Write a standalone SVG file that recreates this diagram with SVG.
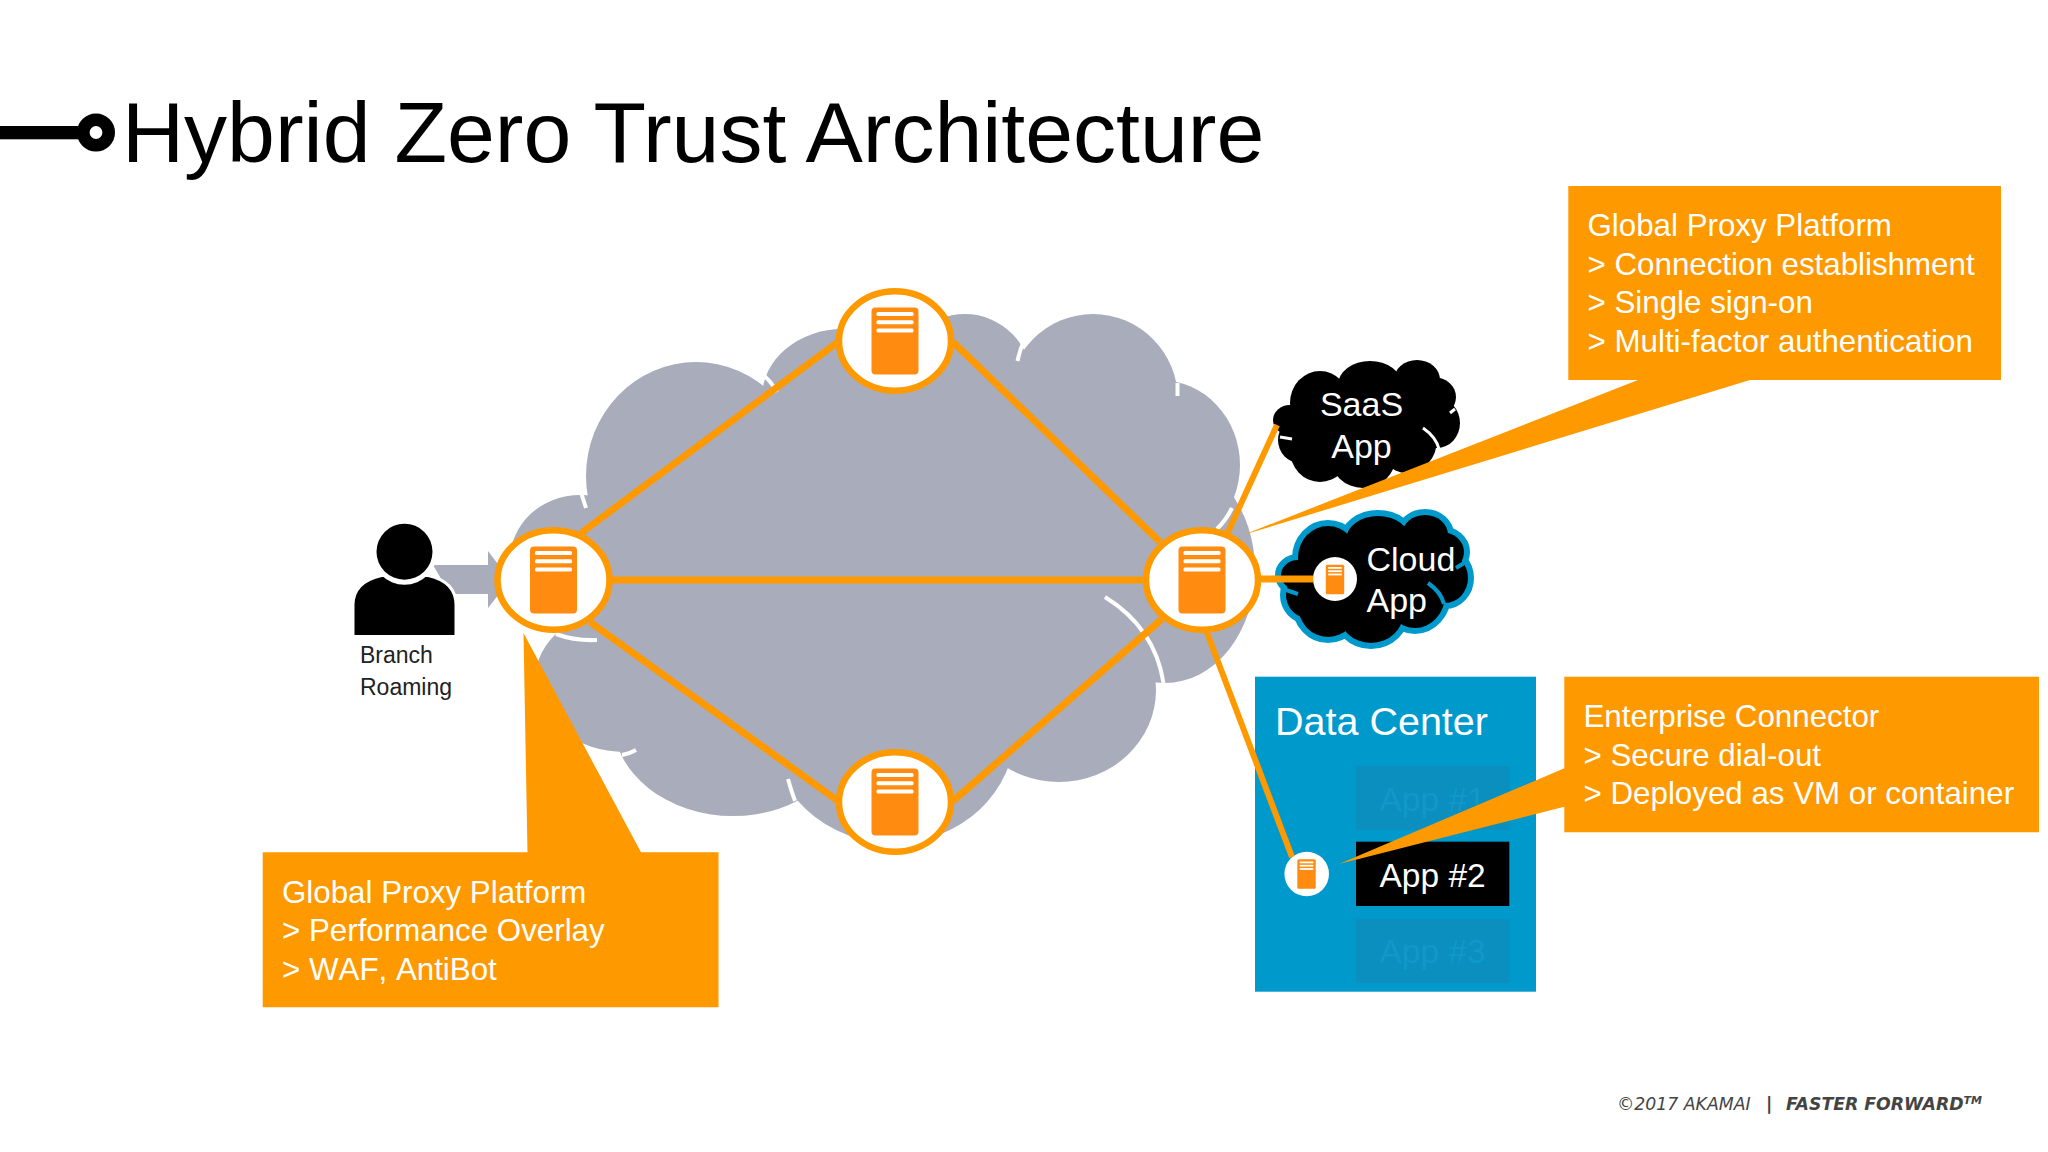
<svg xmlns="http://www.w3.org/2000/svg" xmlns:xlink="http://www.w3.org/1999/xlink" width="2048" height="1152" viewBox="0 0 2048 1152">
<style>
text{font-family:"Liberation Sans",Arial,sans-serif}
.conn{stroke:#FF9900;stroke-width:7;fill:none}
.gap{stroke:#fff;stroke-width:4;fill:none}
.grey ellipse,.grey polygon{fill:#A9ACBB}
.ring{fill:#fff;stroke:#FF9900;stroke-width:6.5}
.srv{fill:#FF8C10}
.bar{fill:#fff}
.call{fill:#FF9900}
.ct{fill:#fff;font-size:31.3px}
.wt{fill:#fff;font-size:34px}
.app{fill:#0B8FBE}
.appt{fill:#1098C8;font-size:33.5px}
</style>
<defs>
<g id="server">
<rect x="-23.5" y="-33.5" width="47" height="67" rx="4" class="srv"/>
<rect x="-18.5" y="-29" width="37" height="4" rx="1.5" class="bar"/>
<rect x="-18.5" y="-20.8" width="37" height="4" rx="1.5" class="bar"/>
<rect x="-18.5" y="-12.5" width="37" height="4" rx="1.5" class="bar"/>
</g>
<g id="minisrv">
<rect x="-9.2" y="-14.7" width="18.4" height="29.4" rx="1.5" class="srv"/>
<rect x="-6.8" y="-12.5" width="13.6" height="1.8" class="bar"/>
<rect x="-6.8" y="-9.2" width="13.6" height="1.8" class="bar"/>
<rect x="-6.8" y="-5.9" width="13.6" height="1.8" class="bar"/>
</g>
<g id="cloudshape">
<ellipse cx="1320" cy="403" rx="30" ry="32"/>
<ellipse cx="1370" cy="385" rx="32" ry="24"/>
<ellipse cx="1417" cy="380" rx="23" ry="20"/>
<ellipse cx="1433" cy="397" rx="23" ry="20"/>
<ellipse cx="1437" cy="423" rx="23" ry="25"/>
<ellipse cx="1407" cy="440" rx="30" ry="33"/>
<ellipse cx="1363" cy="456" rx="33" ry="32"/>
<ellipse cx="1320" cy="450" rx="30" ry="32"/>
<ellipse cx="1300" cy="440" rx="22" ry="23"/>
<ellipse cx="1290" cy="420" rx="17" ry="15"/>
<ellipse cx="1366" cy="420" rx="62" ry="45"/>
</g>
</defs>
<rect width="2048" height="1152" fill="#fff"/>
<g id="title-bullet">
<rect x="0" y="126" width="85" height="13.3" fill="#000"/>
<circle cx="96" cy="132.5" r="12.7" fill="#fff" stroke="#000" stroke-width="12.6"/>
</g>
<text id="title" x="122" y="161.5" font-size="86" fill="#000">Hybrid Zero Trust Architecture</text>

<g id="backbone-cloud" class="grey">
<ellipse cx="696" cy="476" rx="110" ry="114"/>
<ellipse cx="843" cy="397" rx="81" ry="68"/>
<ellipse cx="965" cy="385" rx="68" ry="71"/>
<ellipse cx="1093" cy="400" rx="85" ry="86"/>
<ellipse cx="1160" cy="465" rx="80" ry="85"/>
<ellipse cx="1165" cy="570" rx="90" ry="113"/>
<ellipse cx="1059" cy="690" rx="97" ry="92"/>
<ellipse cx="893" cy="730" rx="122" ry="113"/>
<ellipse cx="733" cy="720" rx="120" ry="96"/>
<ellipse cx="625" cy="680" rx="90" ry="72"/>
<ellipse cx="580" cy="560" rx="70" ry="65"/>
<ellipse cx="890" cy="570" rx="260" ry="200"/>
<ellipse cx="650" cy="620" rx="70" ry="60"/>
<path class="gap" d="M581.5 494 L586 508"/>
<path class="gap" d="M762 374 Q771 381 777 392"/>
<path class="gap" d="M1024.5 340 Q1020 349 1017.5 361"/>
<path class="gap" d="M1177.5 383 V396"/>
<path class="gap" d="M1217 529 Q1226 520 1232 508"/>
<path class="gap" d="M1105 597 Q1155 628 1163.5 683"/>
<path class="gap" d="M556 634 Q575 641 597 640"/>
<path class="gap" d="M622 755 Q629 754 636 750"/>
<path class="gap" d="M788 779 Q791 790 795 801"/>
</g>

<g id="user">
<polygon points="433,565 488,565 488,551 510,580 488,608 488,594 450,594" fill="#A9ACBB"/>
<path d="M354.5 635V605Q354.5 583 382 577H428Q454.5 583 454.5 605V635Z" fill="#000" stroke="#fff" stroke-width="6" paint-order="stroke"/>
<circle cx="404.5" cy="551.7" r="33" fill="#fff"/>
<circle cx="404.5" cy="551.7" r="28" fill="#000"/>
<text x="360" y="662.5" font-size="23" fill="#222">Branch</text>
<text x="360" y="694.500" font-size="23" fill="#222">Roaming</text>
</g>

<g id="saas-app">
<use xlink:href="#cloudshape" href="#cloudshape" fill="#000"/>
<path d="M1423 428 Q1436 437 1439 449" fill="none" stroke="#fff" stroke-width="3"/>
<path d="M1450 413 L1455 409" fill="none" stroke="#fff" stroke-width="3"/>
<path d="M1280 437 L1292 439" fill="none" stroke="#fff" stroke-width="3"/>
<text class="wt" x="1361.500" y="416" text-anchor="middle">SaaS</text>
<text class="wt" x="1361.500" y="458" text-anchor="middle">App</text>
</g>

<g id="cloud-app">
<use xlink:href="#cloudshape" href="#cloudshape" transform="translate(8 155)" fill="#0099CC" stroke="#0099CC" stroke-width="12"/>
<use xlink:href="#cloudshape" href="#cloudshape" transform="translate(8 155)" fill="#000"/>
<path d="M1428 583 Q1441 592 1444 604" fill="none" stroke="#0099CC" stroke-width="4"/>
<path d="M1456 568 L1464 563" fill="none" stroke="#0099CC" stroke-width="4"/>
<path d="M1283 589 L1298 594" fill="none" stroke="#0099CC" stroke-width="4"/>
<circle cx="1335" cy="579" r="22" fill="#fff"/>
<use xlink:href="#minisrv" href="#minisrv" x="1335" y="579.5"/>
<text class="wt" x="1366.500" y="571">Cloud</text>
<text class="wt" x="1366.500" y="612">App</text>
</g>

<g id="data-center">
<rect x="1255" y="676.700" width="281" height="315" fill="#0099CC"/>
<text x="1275" y="734.500" font-size="39.5" fill="#fff">Data Center</text>
<rect class="app" x="1356" y="766" width="153.300" height="64"/>
<text class="appt" x="1432.600" y="810.500" text-anchor="middle">App #1</text>
<rect x="1356" y="841.700" width="153.300" height="64.300" fill="#000"/>
<text x="1432.600" y="886.700" font-size="33.5" fill="#fff" text-anchor="middle">App #2</text>
<rect class="app" x="1356" y="919" width="153.300" height="64"/>
<text class="appt" x="1432.600" y="963" text-anchor="middle">App #3</text>
<circle cx="1306.700" cy="874" r="22.300" fill="#fff"/>
<use xlink:href="#minisrv" href="#minisrv" x="1306.500" y="874"/>
</g>

<g id="connectors">
<line class="conn" x1="581" y1="533" x2="838" y2="342"/>
<line class="conn" x1="953" y1="342" x2="1160" y2="542"/>
<line class="conn" x1="612" y1="580" x2="1145" y2="580"/>
<line class="conn" x1="590" y1="622" x2="838" y2="801"/>
<line class="conn" x1="953" y1="801" x2="1162" y2="619"/>
<line class="conn" x1="1228" y1="532" x2="1277" y2="425" style="stroke-width:6"/>
<line class="conn" x1="1206" y1="630" x2="1292" y2="857" style="stroke-width:6"/>
<line class="conn" x1="1260" y1="579" x2="1313" y2="579"/>
</g>

<g id="node-left"><ellipse class="ring" cx="553.500" cy="580" rx="56" ry="49.700"/><use xlink:href="#server" href="#server" x="553.500" y="580"/></g>
<g id="node-top"><ellipse class="ring" cx="895" cy="341" rx="56" ry="49.700"/><use xlink:href="#server" href="#server" x="895" y="341"/></g>
<g id="node-right"><ellipse class="ring" cx="1202" cy="580" rx="56" ry="49.700"/><use xlink:href="#server" href="#server" x="1202" y="580"/></g>
<g id="node-bottom"><ellipse class="ring" cx="895" cy="802" rx="56" ry="49.700"/><use xlink:href="#server" href="#server" x="895" y="802"/></g>

<g id="callout-performance">
<polygon class="call" points="523.500,633 641,852.300 718.500,852.300 718.500,1007.300 262.700,1007.300 262.700,852.300 527.500,852.300"/>
<text class="ct" x="282" y="903">Global Proxy Platform</text>
<text class="ct" x="282" y="941.300">&gt; Performance Overlay</text>
<text class="ct" x="282" y="979.600" style="font-kerning:none">&gt; WAF, AntiBot</text>
</g>
<g id="callout-connection">
<polygon class="call" points="1243,535 1638,380 1568.300,380 1568.300,186 2001,186 2001,380 1750,380"/>
<text class="ct" x="1587.500" y="236.300">Global Proxy Platform</text>
<text class="ct" x="1587.500" y="274.600">&gt; Connection establishment</text>
<text class="ct" x="1587.500" y="313.300">&gt; Single sign-on</text>
<text class="ct" x="1587.500" y="351.800">&gt; Multi-factor authentication</text>
</g>
<g id="callout-connector">
<polygon class="call" points="1339,864 1564.300,768.300 1564.300,676.700 2039,676.700 2039,832.300 1564.300,832.300 1564.300,806.700"/>
<text class="ct" x="1583.500" y="727">Enterprise Connector</text>
<text class="ct" x="1583.500" y="765.500">&gt; Secure dial-out</text>
<text class="ct" x="1583.500" y="804">&gt; Deployed as VM or container</text>
</g>

<g id="footer" font-size="17.300" fill="#444">
<text x="1617" y="1109.500" style="font-family:'DejaVu Sans',sans-serif;font-style:italic">©2017 AKAMAI</text>
<text x="1766" y="1109.500" style="font-family:'DejaVu Sans',sans-serif;font-weight:bold">|</text>
<text x="1786" y="1109.500" style="font-family:'DejaVu Sans',sans-serif;font-style:italic;font-weight:bold">FASTER FORWARD<tspan dy="-6" font-size="11">TM</tspan></text>
</g>
</svg>
